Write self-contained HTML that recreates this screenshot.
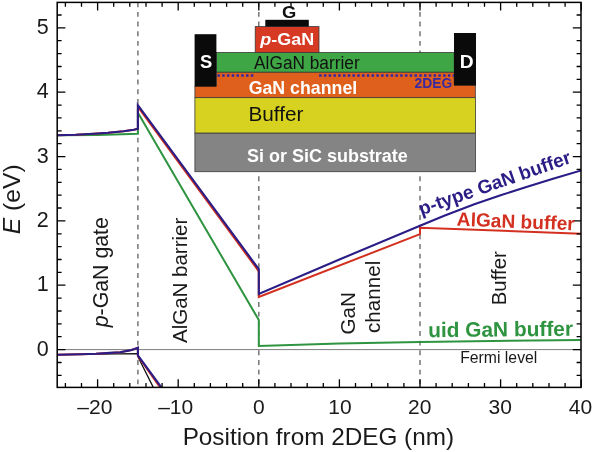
<!DOCTYPE html><html><head><meta charset="utf-8"><title>Band diagram</title>
<style>html,body{margin:0;padding:0;background:#fff}svg{display:block}text{font-family:"Liberation Sans",sans-serif}</style></head><body>
<svg width="594" height="452" viewBox="0 0 594 452">
<rect width="594" height="452" fill="#fff"/>
<line x1="137.9" y1="2.25" x2="137.9" y2="387.4" stroke="#767676" stroke-width="1.5" stroke-dasharray="4.9,4.77"/>
<line x1="258.8" y1="2.25" x2="258.8" y2="387.4" stroke="#767676" stroke-width="1.5" stroke-dasharray="4.9,4.77"/>
<line x1="420.0" y1="2.25" x2="420.0" y2="387.4" stroke="#767676" stroke-width="1.5" stroke-dasharray="4.9,4.77"/>
<line x1="57.2" y1="349.6" x2="581.0" y2="349.6" stroke="#7c7c7c" stroke-width="1"/>
<clipPath id="c"><rect x="57.2" y="2.4" width="523.8" height="385.0"/></clipPath>
<g clip-path="url(#c)" fill="none" stroke-linejoin="miter">
<polyline points="57.3,354.7 137.9,353.7 137.9,356.7 153.3,387.4 162.1,404.9" stroke="#111" stroke-width="1.3"/>
<polyline points="57.3,135.3 97.6,134.9 137.9,133.7 137.9,112.8 258.8,320.0 258.8,345.9 339.4,343.4 420.0,341.9 581.2,339.9" stroke="#2e9440" stroke-width="2"/>
<polyline points="57.3,135.3 75.8,134.7 93.6,133.7 108.1,132.7 123.4,131.2 133.9,129.7 137.9,128.7 137.9,107.0 258.8,271.3 258.8,297.0 420.0,234.1 420.0,227.7 581.2,233.8" stroke="#d3301f" stroke-width="2"/>
<polyline points="57.3,354.7 81.5,354.2 96.0,353.7 109.7,352.9 120.2,352.2 129.8,350.4 134.7,349.0 137.9,347.7 137.9,356.0 160.1,387.4 170.1,401.1" stroke="#d3301f" stroke-width="2"/>
<polyline points="57.3,135.3 75.8,134.7 93.6,133.7 108.1,132.7 123.4,131.2 133.9,129.7 137.9,128.7 137.9,105.1 258.8,269.2 258.8,293.9 339.4,259.5 420.0,225.8 444.2,215.8 474.3,204.3 500.6,195.2 524.8,187.6 553.0,178.8 581.2,170.4" stroke="#2b1d86" stroke-width="2.1"/>
<polyline points="57.3,354.7 81.5,354.2 96.0,353.7 109.7,352.9 120.2,352.2 129.8,350.4 134.7,349.0 137.9,347.7 137.9,355.3 161.4,387.4 170.1,399.1" stroke="#2b1d86" stroke-width="2.1"/>
</g>
<g>
<rect x="194.9" y="133" width="280.5" height="38.7" fill="#848484" stroke="#3a3a3a" stroke-width="0.8"/>
<rect x="194.9" y="97.6" width="280.5" height="35.4" fill="#d7d220" stroke="#3a3a3a" stroke-width="0.8"/>
<path d="M194.9,86H216.4V72.1H454.2V85H475.4V97.6H194.9Z" fill="#df601d" stroke="#3a3a3a" stroke-width="0.8"/>
<rect x="216.4" y="52.4" width="237.8" height="19.7" fill="#3fa646" stroke="#3a3a3a" stroke-width="0.8"/>
<rect x="255.2" y="26.6" width="63.8" height="25.8" fill="#d63a22" stroke="#3a3a3a" stroke-width="0.8"/>
<rect x="265.3" y="19.8" width="43.5" height="6.8" fill="#0a0a0a"/>
<rect x="194.6" y="34.2" width="21.8" height="52.4" fill="#0a0a0a"/>
<rect x="454" y="33" width="22" height="52.5" fill="#0a0a0a"/>
<path d="M217.4,75.4H255.6M319.1,75.4H454" stroke="#3328a4" stroke-width="2.5" stroke-dasharray="2.5,2.27" fill="none"/>
</g>
<text transform="translate(281.97,18.10) scale(1.1134,1)" font-size="16.5" font-weight="bold" fill="#111">G</text>
<text transform="translate(260.23,45.10) scale(1.0393,1)" font-size="17.3" font-weight="bold" fill="#fff"><tspan font-style="italic">p</tspan>-GaN</text>
<text transform="translate(199.95,68.30) scale(1.0185,1)" font-size="18" font-weight="bold" fill="#fff">S</text>
<text transform="translate(459.75,68.30) scale(1.0659,1)" font-size="18" font-weight="bold" fill="#fff">D</text>
<text transform="translate(254.10,68.90) scale(0.9607,1)" font-size="18" fill="#111">AlGaN barrier</text>
<text transform="translate(248.69,93.60) scale(1.0001,1)" font-size="17.75" font-weight="bold" fill="#fff">GaN channel</text>
<text transform="translate(414.52,88.00) scale(0.9999,1)" font-size="13.83" font-weight="bold" fill="#3a2aa0">2DEG</text>
<text transform="translate(248.44,120.50) scale(1.0002,1)" font-size="20.78" fill="#111">Buffer</text>
<text transform="translate(247.06,161.80) scale(1.0002,1)" font-size="17.98" font-weight="bold" fill="#fff">Si or SiC substrate</text>
<rect x="57.2" y="2.4" width="523.8" height="385.0" fill="none" stroke="#000" stroke-width="1.5"/>
<path d="M65.4,387.4v-4.4M65.4,2.4v4.4M81.5,387.4v-4.4M81.5,2.4v4.4M97.6,387.4v-8.2M97.6,2.4v8.2M113.7,387.4v-4.4M113.7,2.4v4.4M129.8,387.4v-4.4M129.8,2.4v4.4M146.0,387.4v-4.4M146.0,2.4v4.4M162.1,387.4v-4.4M162.1,2.4v4.4M178.2,387.4v-8.2M178.2,2.4v8.2M194.3,387.4v-4.4M194.3,2.4v4.4M210.4,387.4v-4.4M210.4,2.4v4.4M226.6,387.4v-4.4M226.6,2.4v4.4M242.7,387.4v-4.4M242.7,2.4v4.4M258.8,387.4v-8.2M258.8,2.4v8.2M274.9,387.4v-4.4M274.9,2.4v4.4M291.0,387.4v-4.4M291.0,2.4v4.4M307.2,387.4v-4.4M307.2,2.4v4.4M323.3,387.4v-4.4M323.3,2.4v4.4M339.4,387.4v-8.2M339.4,2.4v8.2M355.5,387.4v-4.4M355.5,2.4v4.4M371.6,387.4v-4.4M371.6,2.4v4.4M387.8,387.4v-4.4M387.8,2.4v4.4M403.9,387.4v-4.4M403.9,2.4v4.4M420.0,387.4v-8.2M420.0,2.4v8.2M436.1,387.4v-4.4M436.1,2.4v4.4M452.2,387.4v-4.4M452.2,2.4v4.4M468.4,387.4v-4.4M468.4,2.4v4.4M484.5,387.4v-4.4M484.5,2.4v4.4M500.6,387.4v-8.2M500.6,2.4v8.2M516.7,387.4v-4.4M516.7,2.4v4.4M532.8,387.4v-4.4M532.8,2.4v4.4M549.0,387.4v-4.4M549.0,2.4v4.4M565.1,387.4v-4.4M565.1,2.4v4.4M581.2,387.4v-8.2M581.2,2.4v8.2M57.2,375.3h4.4M581.0,375.3h-4.4M57.2,362.5h4.4M581.0,362.5h-4.4M57.2,349.6h8.2M581.0,349.6h-8.2M57.2,336.7h4.4M581.0,336.7h-4.4M57.2,323.9h4.4M581.0,323.9h-4.4M57.2,311.0h4.4M581.0,311.0h-4.4M57.2,298.1h4.4M581.0,298.1h-4.4M57.2,285.2h8.2M581.0,285.2h-8.2M57.2,272.4h4.4M581.0,272.4h-4.4M57.2,259.5h4.4M581.0,259.5h-4.4M57.2,246.6h4.4M581.0,246.6h-4.4M57.2,233.8h4.4M581.0,233.8h-4.4M57.2,220.9h8.2M581.0,220.9h-8.2M57.2,208.0h4.4M581.0,208.0h-4.4M57.2,195.2h4.4M581.0,195.2h-4.4M57.2,182.3h4.4M581.0,182.3h-4.4M57.2,169.4h4.4M581.0,169.4h-4.4M57.2,156.6h8.2M581.0,156.6h-8.2M57.2,143.7h4.4M581.0,143.7h-4.4M57.2,130.8h4.4M581.0,130.8h-4.4M57.2,117.9h4.4M581.0,117.9h-4.4M57.2,105.1h4.4M581.0,105.1h-4.4M57.2,92.2h8.2M581.0,92.2h-8.2M57.2,79.3h4.4M581.0,79.3h-4.4M57.2,66.5h4.4M581.0,66.5h-4.4M57.2,53.6h4.4M581.0,53.6h-4.4M57.2,40.7h4.4M581.0,40.7h-4.4M57.2,27.9h8.2M581.0,27.9h-8.2M57.2,15.0h4.4M581.0,15.0h-4.4" stroke="#000" stroke-width="1.3" fill="none"/>
<text x="48.8" y="355.5" font-size="21.5" text-anchor="end" fill="#1a1a1a">0</text>
<text x="48.8" y="291.1" font-size="21.5" text-anchor="end" fill="#1a1a1a">1</text>
<text x="48.8" y="226.8" font-size="21.5" text-anchor="end" fill="#1a1a1a">2</text>
<text x="48.8" y="162.5" font-size="21.5" text-anchor="end" fill="#1a1a1a">3</text>
<text x="48.8" y="98.1" font-size="21.5" text-anchor="end" fill="#1a1a1a">4</text>
<text x="48.8" y="33.8" font-size="21.5" text-anchor="end" fill="#1a1a1a">5</text>
<text transform="translate(77.29,414.20) scale(1.0000,1)" font-size="21" fill="#1a1a1a">–20</text>
<text transform="translate(158.13,414.20) scale(1.0000,1)" font-size="21" fill="#1a1a1a">–10</text>
<text transform="translate(252.97,414.20) scale(1.0000,1)" font-size="21" fill="#1a1a1a">0</text>
<text transform="translate(328.22,414.20) scale(1.0000,1)" font-size="21" fill="#1a1a1a">10</text>
<text transform="translate(407.99,414.20) scale(1.0000,1)" font-size="21" fill="#1a1a1a">20</text>
<text transform="translate(488.59,414.20) scale(1.0000,1)" font-size="21" fill="#1a1a1a">30</text>
<text transform="translate(568.85,414.20) scale(1.0000,1)" font-size="21" fill="#1a1a1a">40</text>
<text transform="translate(182.65,444.80) scale(0.9999,1)" font-size="24.32" fill="#1a1a1a">Position from 2DEG (nm)</text>
<text transform="translate(20.00,234.27) rotate(-90) scale(1.0002,1)" font-size="24.68" fill="#1a1a1a"><tspan font-style="italic">E</tspan> (eV)</text>
<text transform="translate(107.90,327.29) rotate(-90) scale(1.0002,1)" font-size="21.32" fill="#1a1a1a"><tspan font-style="italic">p</tspan>-GaN gate</text>
<text transform="translate(187.00,343.00) rotate(-90) scale(0.9999,1)" font-size="20.51" fill="#1a1a1a">AlGaN barrier</text>
<text transform="translate(354.80,334.53) rotate(-90) scale(1.0002,1)" font-size="20.62" fill="#1a1a1a">GaN</text>
<text transform="translate(380.40,333.03) rotate(-90) scale(0.9999,1)" font-size="20.65" fill="#1a1a1a">channel</text>
<text transform="translate(506.20,305.23) rotate(-90) scale(1.0001,1)" font-size="20.39" fill="#1a1a1a">Buffer</text>
<text transform="translate(460.24,363.00) scale(1.0003,1)" font-size="15.76" fill="#1a1a1a">Fermi level</text>
<text transform="translate(421.3,215.5) rotate(-19.3)" font-size="18.95" font-weight="bold" fill="#2b1d86">p-type GaN buffer</text>
<text transform="translate(456.62,225.60) rotate(2.3) scale(0.9998,1)" font-size="19.14" font-weight="bold" fill="#d3301f">AlGaN buffer</text>
<text transform="translate(428.15,337.20) rotate(-0.6) scale(0.9999,1)" font-size="20.89" font-weight="bold" fill="#2e9440">uid GaN buffer</text>
</svg></body></html>
